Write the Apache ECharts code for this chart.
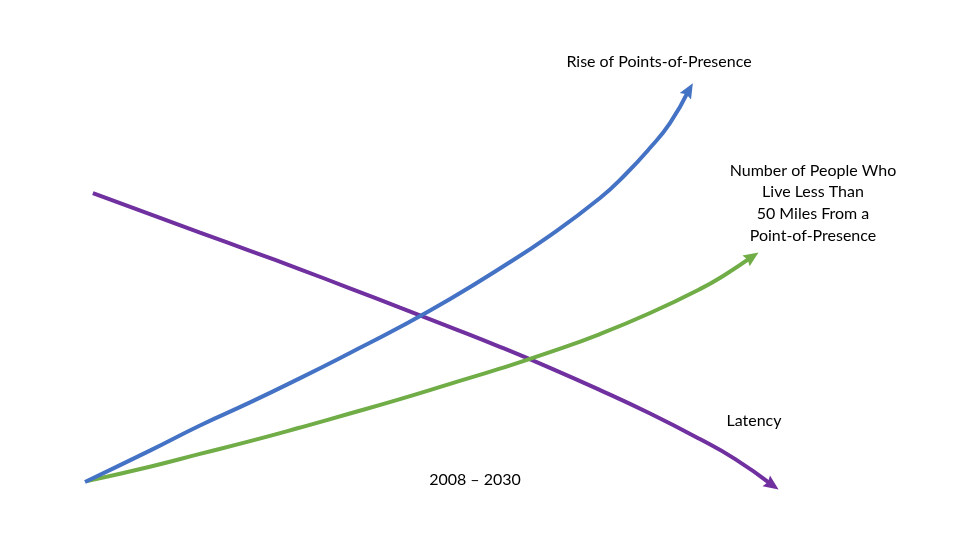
<!DOCTYPE html>
<html>
<head>
<meta charset="utf-8">
<script src="https://cdn.jsdelivr.net/npm/echarts@6/dist/echarts.min.js"></script>
<style>
html,body{margin:0;padding:0;background:#ffffff;}
#main{width:960px;height:540px;}
</style>
</head>
<body>
<div id="main"></div>
<script>
// x: year (2008 – 2030), y: relative level (0–100)
const popYears = [2008.00, 2010.06, 2011.65, 2013.24, 2014.83, 2016.41, 2018.00, 2019.59, 2021.17, 2022.76, 2024.35, 2025.14, 2025.94, 2026.57, 2027.17];
const popValues = [2.2, 9.8, 15.9, 21.5, 27.4, 33.5, 39.8, 46.6, 54.0, 62.0, 71.1, 76.7, 83.3, 89.3, 97.3];

const peopleYears = [2008.06, 2010.06, 2011.65, 2013.24, 2014.83, 2016.41, 2018.00, 2019.59, 2021.17, 2022.76, 2024.35, 2025.94, 2027.52, 2028.32, 2029.17];
const peopleValues = [2.4, 5.9, 9.0, 12.1, 15.4, 18.8, 22.3, 26.0, 29.7, 33.7, 38.1, 43.2, 49.0, 52.5, 56.8];

const latencyYears = [2008.25, 2010.06, 2011.65, 2013.24, 2014.83, 2016.41, 2018.00, 2019.59, 2021.17, 2022.76, 2024.35, 2025.94, 2027.52, 2028.63, 2029.81];
const latencyValues = [72.3, 67.2, 62.7, 58.3, 53.8, 49.2, 44.5, 39.8, 35.0, 29.9, 24.5, 18.8, 12.6, 7.8, 1.5];

const seriesNames = ['Rise of Points-of-Presence', 'Number of People Who Live Less Than 50 Miles From a Point-of-Presence', 'Latency'];
const seriesColors = ['#4472C4', '#70AD47', '#7030A0'];
const peopleLabelLines = ['Number of People Who', 'Live Less Than', '50 Miles From a', 'Point-of-Presence'];
const rangeLabel = '2008 – 2030';

const FONT = 'Lato, "Open Sans", "Liberation Sans", sans-serif';
const ARROW = 'path://M7,0 L14,14 L7,12 L0,14 Z';
const ARROW_SIZE = [13, 15];
const TIP_AHEAD = 8; // px the arrow tip reaches past the end of the shaft

const chart = echarts.init(document.getElementById('main'));

const seriesDefs = [
  {xs: popYears, ys: popValues},
  {xs: peopleYears, ys: peopleValues},
  {xs: latencyYears, ys: latencyValues}
];

function makeSeries(arrows) {
  return seriesDefs.map((d, i) => {
    const data = d.xs.map((x, k) => {
      const item = {value: [x, d.ys[k]], symbol: 'none'};
      if (arrows && k === d.xs.length - 1) {
        item.symbol = ARROW;
        item.symbolSize = ARROW_SIZE;
        item.symbolKeepAspect = false;
        item.symbolRotate = arrows[i].rot;
        item.symbolOffset = arrows[i].off;
      }
      return item;
    });
    return {
      type: 'line',
      name: seriesNames[i],
      data: data,
      smooth: 0.5,
      showSymbol: true,
      showAllSymbol: true,
      silent: true,
      lineStyle: {color: seriesColors[i], width: 4},
      itemStyle: {color: seriesColors[i]},
      z: 3 - i
    };
  });
}

const textStyle = (t, align) => ({text: t, font: '16px ' + FONT, fill: '#000', align: align || 'center', verticalAlign: 'middle'});

const baseOption = {
  animation: false,
  backgroundColor: '#ffffff',
  grid: {left: 85, right: 182, top: 79, bottom: 49},
  xAxis: {type: 'value', min: 2008, max: 2030, show: false},
  yAxis: {type: 'value', min: 0, max: 100, show: false},
  graphic: [
    {type: 'text', x: 659, y: 62, style: textStyle(seriesNames[0])},
    {type: 'text', x: 813, y: 171, style: textStyle(peopleLabelLines[0])},
    {type: 'text', x: 813, y: 192, style: textStyle(peopleLabelLines[1])},
    {type: 'text', x: 813, y: 214, style: textStyle(peopleLabelLines[2])},
    {type: 'text', x: 813, y: 236, style: textStyle(peopleLabelLines[3])},
    {type: 'text', x: 754, y: 421, style: textStyle(seriesNames[2])},
    {type: 'text', x: 475, y: 480, style: textStyle(rangeLabel)}
  ],
  series: makeSeries(null)
};
chart.setOption(baseOption);

const arrows = seriesDefs.map(d => {
  const n = d.xs.length;
  const p1 = chart.convertToPixel({gridIndex: 0}, [d.xs[n - 2], d.ys[n - 2]]);
  const p2 = chart.convertToPixel({gridIndex: 0}, [d.xs[n - 1], d.ys[n - 1]]);
  const dx = p2[0] - p1[0], dy = p2[1] - p1[1];
  const len = Math.sqrt(dx * dx + dy * dy);
  const ux = dx / len, uy = dy / len;
  const rot = Math.atan2(-uy, ux) * 180 / Math.PI - 90;
  const shift = TIP_AHEAD - ARROW_SIZE[1] / 2;
  return {rot: rot, off: [ux * shift, uy * shift]};
});
chart.setOption({series: makeSeries(arrows)});
</script>
</body>
</html>
